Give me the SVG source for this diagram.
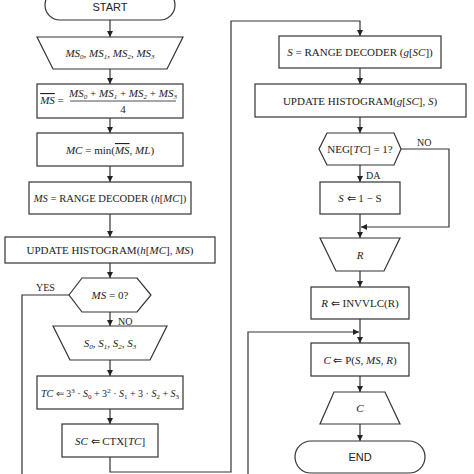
<svg xmlns="http://www.w3.org/2000/svg" width="474" height="474" viewBox="0 0 474 474">
<style>
.s{fill:#fff;stroke:#333;stroke-width:1.2}
.c{fill:none;stroke:#333;stroke-width:1.2}
.t{font-family:"Liberation Serif",serif;font-size:11px;fill:#222;text-anchor:middle}
.i{font-style:italic}
.sub{font-size:7px}
.ov{text-decoration:overline}
.sans{font-family:"Liberation Sans",Arial,sans-serif;font-size:11px;fill:#222;text-anchor:middle}
.l{font-family:"Liberation Serif",serif;font-size:10px;fill:#222}
</style>
<defs>
<marker id="a" viewBox="0 0 10 10" refX="10" refY="5" markerWidth="6" markerHeight="6" orient="auto" markerUnits="userSpaceOnUse">
<path d="M0,0 L10,5 L0,10 z" fill="#222"/>
</marker>
</defs>
<rect width="474" height="474" fill="#fff"/>
<g id="connectors">
<path class="c" d="M110,20 V37" marker-end="url(#a)"/>
<path class="c" d="M110,69 V84" marker-end="url(#a)"/>
<path class="c" d="M110,118 V133" marker-end="url(#a)"/>
<path class="c" d="M110,166 V182" marker-end="url(#a)"/>
<path class="c" d="M110,214 V237" marker-end="url(#a)"/>
<path class="c" d="M110,263 V278" marker-end="url(#a)"/>
<path class="c" d="M110,312 V326" marker-end="url(#a)"/>
<path class="c" d="M110,360 V376" marker-end="url(#a)"/>
<path class="c" d="M110,409 V424" marker-end="url(#a)"/>
<path class="c" d="M69,295 H22 V480 H248 V332 H359" marker-end="url(#a)"/>
<path class="c" d="M110,457 V472 H231 V21 H360 V36" marker-end="url(#a)"/>
<path class="c" d="M360,68 V84" marker-end="url(#a)"/>
<path class="c" d="M360,117 V133" marker-end="url(#a)"/>
<path class="c" d="M360,165 V182" marker-end="url(#a)"/>
<path class="c" d="M360,214 V238" marker-end="url(#a)"/>
<path class="c" d="M401,149 H449 V227 H361" marker-end="url(#a)"/>
<path class="c" d="M360,271 V287" marker-end="url(#a)"/>
<path class="c" d="M360,319 V343" marker-end="url(#a)"/>
<path class="c" d="M360,376 V392" marker-end="url(#a)"/>
<path class="c" d="M360,424 V441" marker-end="url(#a)"/>
<text class="l" x="36" y="291">YES</text>
<text class="l" x="118" y="325">NO</text>
<text class="l" x="417" y="146">NO</text>
<text class="l" x="366" y="179">DA</text>
</g>
<g id="start">
<rect class="s" x="45" y="-10" width="130" height="30" rx="15"/>
<text class="sans" x="110" y="11">START</text>
</g>
<g id="input-ms">
<polygon class="s" points="37,37 183,37 167,69 53,69"/>
<text class="t i" x="110" y="57">MS<tspan class="sub" dy="2">0</tspan><tspan dy="-2">, MS</tspan><tspan class="sub" dy="2">1</tspan><tspan dy="-2">, MS</tspan><tspan class="sub" dy="2">2</tspan><tspan dy="-2">, MS</tspan><tspan class="sub" dy="2">3</tspan></text>
</g>
<g id="mean">
<rect class="s" x="37" y="84" width="146" height="34"/>
<text class="t i" x="52" y="104"><tspan class="ov">MS</tspan><tspan style="font-style:normal"> =</tspan></text>
<text class="t i" x="123" y="97">MS<tspan class="sub" dy="2">0</tspan><tspan dy="-2" style="font-style:normal"> + </tspan>MS<tspan class="sub" dy="2">1</tspan><tspan dy="-2" style="font-style:normal"> + </tspan>MS<tspan class="sub" dy="2">2</tspan><tspan dy="-2" style="font-style:normal"> + </tspan>MS<tspan class="sub" dy="2">3</tspan></text>
<line x1="70" y1="101" x2="176" y2="101" stroke="#222" stroke-width="0.8"/>
<text class="t" x="123" y="113">4</text>
</g>
<g id="mc">
<rect class="s" x="37" y="133" width="146" height="33"/>
<text class="t" x="110" y="154"><tspan class="i">MC</tspan> = min(<tspan class="i ov">MS</tspan>, <tspan class="i">ML</tspan>)</text>
</g>
<g id="range-ms">
<rect class="s" x="29" y="182" width="162" height="32"/>
<text class="t" x="110" y="202" style="font-size:10.6px"><tspan class="i">MS</tspan> = RANGE DECODER (<tspan class="i">h</tspan>[<tspan class="i">MC</tspan>])</text>
</g>
<g id="update-ms">
<rect class="s" x="5" y="237" width="210" height="26"/>
<text class="t" x="110" y="254">UPDATE HISTOGRAM(<tspan class="i">h</tspan>[<tspan class="i">MC</tspan>], <tspan class="i">MS</tspan>)</text>
</g>
<g id="ms-zero">
<polygon class="s" points="69,295 82,278 137,278 151,295 137,312 82,312"/>
<text class="t" x="110" y="299"><tspan class="i">MS</tspan> = 0?</text>
</g>
<g id="input-s">
<polygon class="s" points="53,326 167,326 150,360 70,360"/>
<text class="t i" x="110" y="347">S<tspan class="sub" dy="2">0</tspan><tspan dy="-2">, S</tspan><tspan class="sub" dy="2">1</tspan><tspan dy="-2">, S</tspan><tspan class="sub" dy="2">2</tspan><tspan dy="-2">, S</tspan><tspan class="sub" dy="2">3</tspan></text>
</g>
<g id="tc">
<rect class="s" x="37" y="376" width="146" height="33"/>
<text class="t" x="110" y="397" style="font-size:10px"><tspan class="i">TC</tspan> ⇐ 3<tspan class="sub" dy="-4">3</tspan><tspan dy="4"> · </tspan><tspan class="i">S</tspan><tspan class="sub" dy="2">0</tspan><tspan dy="-2"> + 3</tspan><tspan class="sub" dy="-4">2</tspan><tspan dy="4"> · </tspan><tspan class="i">S</tspan><tspan class="sub" dy="2">1</tspan><tspan dy="-2"> + 3 · </tspan><tspan class="i">S</tspan><tspan class="sub" dy="2">2</tspan><tspan dy="-2"> + </tspan><tspan class="i">S</tspan><tspan class="sub" dy="2">3</tspan></text>
</g>
<g id="sc">
<rect class="s" x="62" y="424" width="96" height="33"/>
<text class="t" x="110" y="445"><tspan class="i">SC</tspan> ⇐ CTX[<tspan class="i">TC</tspan>]</text>
</g>
<g id="range-s">
<rect class="s" x="279" y="36" width="162" height="32"/>
<text class="t" x="360" y="56"><tspan class="i">S</tspan> = RANGE DECODER (<tspan class="i">g</tspan>[<tspan class="i">SC</tspan>])</text>
</g>
<g id="update-s">
<rect class="s" x="255" y="84" width="211" height="33"/>
<text class="t" x="360" y="105">UPDATE HISTOGRAM(<tspan class="i">g</tspan>[<tspan class="i">SC</tspan>], <tspan class="i">S</tspan>)</text>
</g>
<g id="neg">
<polygon class="s" points="319,149 327,133 394,133 401,149 394,165 327,165"/>
<text class="t" x="360" y="153">NEG[<tspan class="i">TC</tspan>] = 1?</text>
</g>
<g id="invert">
<rect class="s" x="320" y="182" width="80" height="32"/>
<text class="t" x="360" y="202"><tspan class="i">S</tspan> ⇐ 1 − S</text>
</g>
<g id="input-r">
<polygon class="s" points="320,238 400,238 384,271 336,271"/>
<text class="t i" x="360" y="259">R</text>
</g>
<g id="invvlc">
<rect class="s" x="311" y="287" width="98" height="32"/>
<text class="t" x="360" y="307"><tspan class="i">R</tspan> ⇐ INVVLC(R)</text>
</g>
<g id="p">
<rect class="s" x="311" y="343" width="98" height="33"/>
<text class="t" x="360" y="364"><tspan class="i">C</tspan> ⇐ P(<tspan class="i">S</tspan>, <tspan class="i">MS</tspan>, <tspan class="i">R</tspan>)</text>
</g>
<g id="output-c">
<polygon class="s" points="334,392 385,392 400,424 320,424"/>
<text class="t i" x="360" y="412">C</text>
</g>
<g id="end">
<rect class="s" x="295" y="441" width="130" height="32" rx="16"/>
<text class="sans" x="360" y="461">END</text>
</g>
</svg>
